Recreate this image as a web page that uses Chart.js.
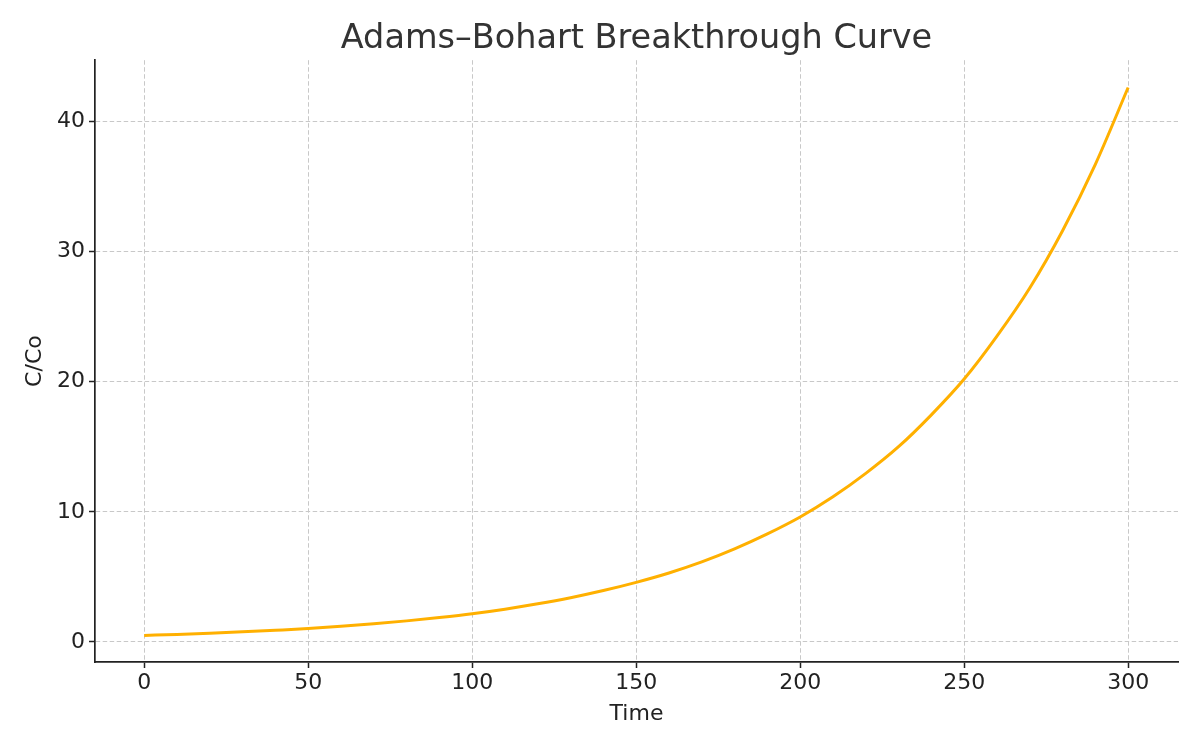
<!DOCTYPE html>
<html>
<head>
<meta charset="utf-8">
<script src="https://cdn.jsdelivr.net/npm/chart.js@4/dist/chart.umd.min.js"></script>
<style>
  html, body { margin: 0; padding: 0; background: #ffffff; }
  #wrap { width: 1200px; height: 750px; }
</style>
</head>
<body>
<div id="wrap"><canvas id="c" width="1200" height="750"></canvas></div>
<script>
const titleText = "Adams–Bohart Breakthrough Curve";
const xLabel = "Time";
const yLabel = "C/Co";
const timeValues = [0, 10, 20, 30, 40, 50, 60, 70, 80, 90, 100, 110, 120, 130, 140, 150,
                    160, 170, 180, 190, 200, 210, 220, 230, 240, 250, 260, 270, 280, 290, 300];
const ratioValues = [0.5, 0.58, 0.67, 0.78, 0.9, 1.03, 1.2, 1.4, 1.62, 1.88, 2.17, 2.52, 2.93, 3.4, 3.95, 4.58,
                     5.3, 6.15, 7.15, 8.3, 9.6, 11.15, 12.95, 15.0, 17.45, 20.2, 23.5, 27.2, 31.6, 36.7, 42.6];
const xTicks = [0, 50, 100, 150, 200, 250, 300];
const yTicks = [0, 10, 20, 30, 40];

const points = timeValues.map((t, i) => ({ x: t, y: ratioValues[i] }));
const FONT = "'DejaVu Sans', sans-serif";

// Center the title over the plotting area (like the reference)
const centerTitle = {
  id: 'centerTitle',
  afterLayout(chart) {
    const tb = chart.titleBlock;
    if (tb) {
      tb.left = chart.chartArea.left;
      tb.right = chart.chartArea.right;
      tb.width = tb.right - tb.left;
    }
  }
};

new Chart(document.getElementById('c'), {
  type: 'line',
  data: {
    datasets: [{
      data: points,
      borderColor: '#FFB000',
      borderWidth: 3,
      pointRadius: 0,
      fill: false,
      cubicInterpolationMode: 'monotone'
    }]
  },
  options: {
    responsive: false,
    animation: false,
    devicePixelRatio: 1,
    layout: { padding: { left: 0, right: 22, top: 0, bottom: 0 } },
    plugins: {
      legend: { display: false },
      tooltip: { enabled: false },
      title: {
        display: true,
        text: titleText,
        color: '#333333',
        font: { family: FONT, size: 33.5, weight: 'normal' },
        padding: { top: 19, bottom: 1 }
      }
    },
    scales: {
      x: {
        type: 'linear',
        min: -15,
        max: 315.2,
        afterBuildTicks: (s) => { s.ticks = xTicks.map(v => ({ value: v })); },
        afterFit: (s) => { s.height = 88; },
        ticks: { color: '#222222', font: { family: FONT, size: 22 }, padding: 2, maxRotation: 0 },
        grid: { color: '#c8c8c8', lineWidth: 1, drawTicks: true, tickLength: 6, tickColor: '#222222', tickWidth: 1.5 },
        border: { display: true, color: '#222222', width: 1.7, dash: [4.5, 2.5] },
        title: { display: true, text: xLabel, color: '#222222', font: { family: FONT, size: 22 }, padding: { top: 0, bottom: 23 } }
      },
      y: {
        type: 'linear',
        min: -1.54,
        max: 44.7,
        afterBuildTicks: (s) => { s.ticks = yTicks.map(v => ({ value: v })); },
        afterFit: (s) => { s.width = 95; },
        ticks: { color: '#222222', font: { family: FONT, size: 22 }, padding: 4 },
        grid: { color: '#c8c8c8', lineWidth: 1, drawTicks: true, tickLength: 6, tickColor: '#222222', tickWidth: 1.5 },
        border: { display: true, color: '#222222', width: 1.7, dash: [4.5, 2.5] },
        title: { display: true, text: yLabel, color: '#222222', font: { family: FONT, size: 22 }, padding: { top: 22, bottom: 0 } }
      }
    }
  },
  plugins: [centerTitle]
});
</script>
</body>
</html>
